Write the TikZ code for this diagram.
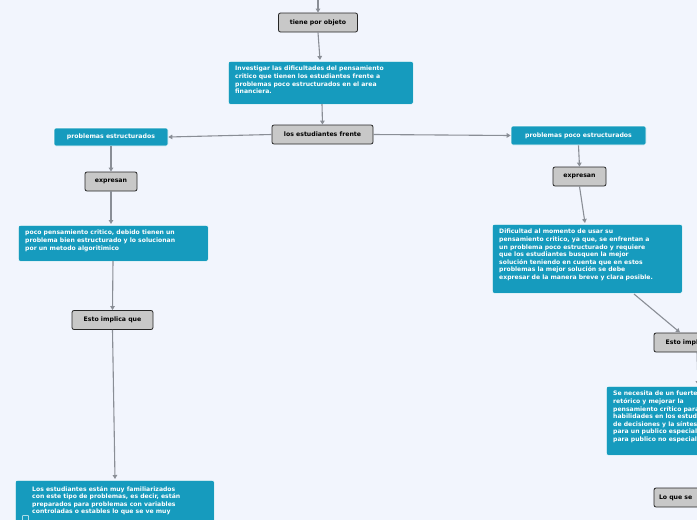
\documentclass[tikz,border=0pt]{standalone}
\usepackage{fontspec}
\setmainfont{DejaVu Sans}
\usetikzlibrary{arrows.meta}
\definecolor{bg}{HTML}{F2F5FD}
\definecolor{bl}{HTML}{169BBE}
\definecolor{gr}{HTML}{C8C8C8}
\definecolor{ln}{HTML}{8A8E96}
\tikzset{
 gbox/.style={draw=black!85,fill=gr,rounded corners=2pt,line width=0.8pt,inner sep=0pt,minimum height=19pt,font=\bfseries\fontsize{6.2}{7.5}\selectfont,text=black},
 bbox/.style={fill=bl,rounded corners=2pt,draw=white,line width=0.6pt,text=white,font=\bfseries\fontsize{6.2}{7.5}\selectfont,align=left,anchor=north west,inner sep=0pt},
 btxt/.style={anchor=north west,text=white,font=\bfseries\fontsize{6.1}{7.6}\selectfont,align=left,inner sep=0pt},
 con/.style={draw=ln,line width=1.1pt,-{Triangle[length=4pt,width=4.5pt]}}
}
\begin{document}
\begin{tikzpicture}[x=1pt,y=-1pt]
\fill[bg] (0,0) rectangle (697,520);
\clip (0,0) rectangle (697,520);
\useasboundingbox (0,0) rectangle (697,520);
\coordinate (top) at (318,0);
\node[gbox,minimum width=79pt] (tpo) at (318,22.5) {tiene por objeto};
\node[bbox,minimum width=185pt,minimum height=43pt] (inv) at (228,61) {};
\node[btxt] at (235,66) {Investigar las dificultades del pensamiento\\critico que tienen los estudiantes frente a\\problemas poco estructurados en el area\\financiera.};
\node[gbox,minimum width=101pt] (lef) at (322.5,134.5) {los estudiantes frente};
\node[bbox,anchor=center,minimum width=114pt,minimum height=18pt,align=center] (pe) at (111,137) {problemas estructurados};
\node[bbox,anchor=center,minimum width=135pt,minimum height=19pt,align=center] (ppe) at (578.5,135.5) {problemas poco estructurados};
\node[gbox,minimum width=52pt] (ex1) at (111,181.5) {expresan};
\node[gbox,minimum width=53pt] (ex2) at (579.5,176.5) {expresan};
\node[bbox,minimum width=190pt,minimum height=36pt] (b1) at (18,225) {};
\node[btxt] at (25,230) {poco pensamiento critico, debido tienen un\\problema bien estructurado y lo solucionan\\por un metodo algoritimico};
\node[bbox,minimum width=190pt,minimum height=69pt] (b2) at (492,224) {};
\node[btxt] at (499,229) {Dificultad al momento de usar su\\pensamiento critico, ya que, se enfrentan a\\un problema poco estructurado y requiere\\que los estudiantes busquen la mejor\\solución teniendo en cuenta que en estos\\problemas la mejor solución se debe\\expresar de la manera breve y clara posible.};
\node[gbox,minimum width=81pt] (ei1) at (112.5,320) {Esto implica que};
\node[gbox,minimum width=81pt] (ei2) at (694.5,342.5) {Esto implica que};
\node[bbox,minimum width=190pt,minimum height=69pt] (b3) at (606,386) {};
\node[btxt] at (613,391) {Se necesita de un fuerte\\retórico y mejorar la\\pensamiento crítico para\\habilidades en los estudiantes\\de decisiones y la síntesis\\para un publico especializado\\para publico no especializado};
\node[gbox,minimum width=90pt,text width=80pt,align=left] (lq) at (699,497.5) {Lo que se};
\node[bbox,minimum width=199pt,minimum height=60pt] (b4) at (15,480) {};
\node[btxt] at (32,486) {Los estudiantes están muy familiarizados\\con este tipo de problemas, es decir, están\\preparados para problemas con variables\\controladas o estables lo que se ve muy};
\draw[white,line width=0.5pt,rounded corners=0.5pt] (22.5,515.5) rectangle (28.5,521);
\draw[con] (top) -- (tpo.north);
\draw[con] (tpo.south) -- (320,60);
\draw[con] (322,104) -- (lef.north);
\draw[con] (lef.west) -- (pe.east);
\draw[con] (lef.east) -- (ppe.west);
\draw[con] (pe.south) -- (ex1.north);
\draw[con] (ppe.south) -- (ex2.north);
\draw[con] (ex1.south) -- (111,224);
\draw[con] (ex2.south) -- (585,223);
\draw[con] (113,261) -- (ei1.north);
\draw[con] (634,294) -- (680,332.5);
\draw[con] (ei1.south) -- (115,479);
\draw[con] (697,352) -- (698,385);
\end{tikzpicture}
\end{document}
